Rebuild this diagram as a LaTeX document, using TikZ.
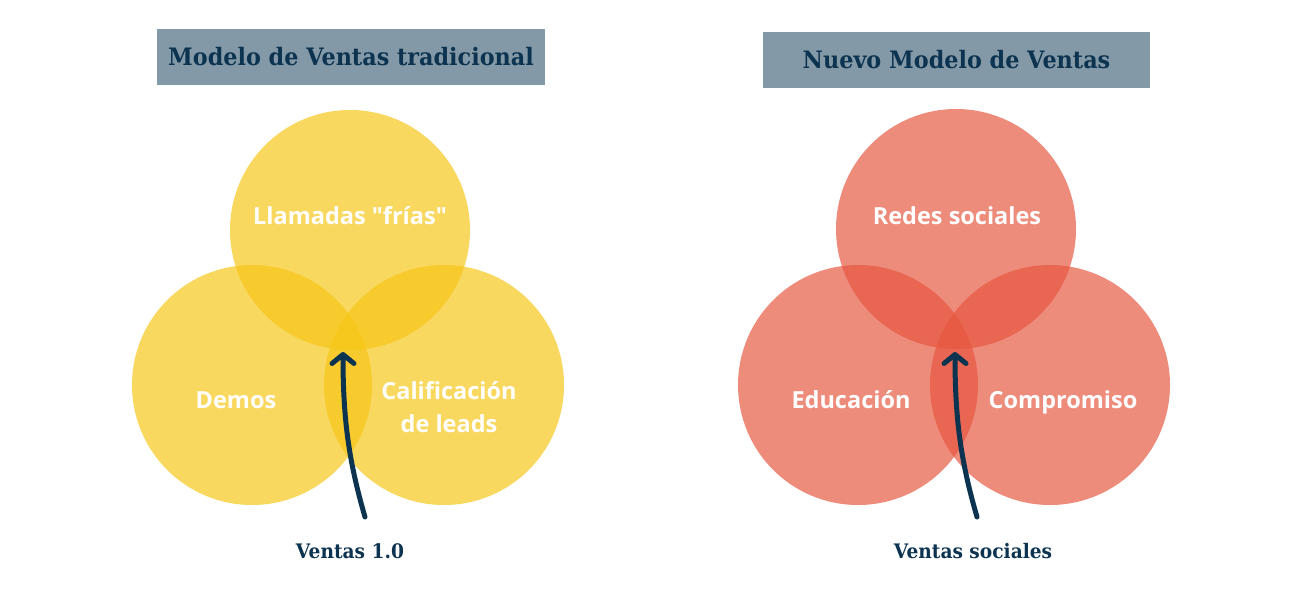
\documentclass[tikz,border=0pt]{standalone}
\usepackage{fontspec}
\setmainfont{DejaVu Serif}
\newfontfamily\labfont{Open Sans}
\usetikzlibrary{arrows.meta}
\definecolor{navy}{HTML}{0C3450}
\definecolor{titlebg}{HTML}{8499A7}
\definecolor{ylw}{RGB}{246,197,21}
\definecolor{rd}{RGB}{230,85,62}
\tikzset{
  circ/.style={circle, draw=none, minimum size=240pt, inner sep=0pt, fill opacity=0.68},
  ycirc/.style={circ, fill=ylw},
  rcirc/.style={circ, fill=rd},
  titlebox/.style={fill=titlebg, text=navy, inner sep=0pt, font=\bfseries\fontsize{24}{28}\selectfont},
  lab/.style={text=white, font=\labfont\bfseries\fontsize{23.5}{33}\selectfont, align=center, inner sep=0pt},
  captext/.style={text=navy, font=\bfseries\fontsize{20}{24}\selectfont, inner sep=0pt},
  arr/.style={draw=navy, line width=5pt, line cap=round, -{Straight Barb[length=9pt,width=22pt,line cap=round,line join=round]}}
}
\begin{document}
\begin{tikzpicture}[x=1pt,y=-1pt]
\useasboundingbox (0,0) rectangle (1300,600);
% left group
\node[titlebox, minimum width=388pt, minimum height=56pt] (t1) at (351,57) {\scalebox{0.93}[1]{Modelo de Ventas tradicional}};
\node[ycirc] (c1t) at (350,230) {};
\node[ycirc] (c1l) at (252,385) {};
\node[ycirc] (c1r) at (444,385) {};
\node[lab] (l1t) at (350,216) {Llamadas "frías"};
\node[lab] (l1l) at (236,400) {Demos};
\node[lab] (l1r) at (449,407) {Calificación\\de leads};
\node[captext] (v1) at (350,551) {\scalebox{0.93}[1]{Ventas 1.0}};
\coordinate (a1s) at (365,517);
\coordinate (a1t) at (343,352);
\draw[arr] (a1s) .. controls (349,462) and (343,420) .. (a1t);
% right group
\node[titlebox, minimum width=387pt, minimum height=56pt] (t2) at (956.5,60) {\scalebox{0.93}[1]{Nuevo Modelo de Ventas}};
\node[rcirc] (c2t) at (956,229) {};
\node[rcirc] (c2l) at (858,385) {};
\node[rcirc] (c2r) at (1050,385) {};
\node[lab] (l2t) at (957,216) {Redes sociales};
\node[lab] (l2l) at (851,400) {Educación};
\node[lab] (l2r) at (1063,402) {Compromiso};
\node[captext] (v2) at (973,551) {\scalebox{0.93}[1]{Ventas sociales}};
\coordinate (a2s) at (977,517);
\coordinate (a2t) at (955,352);
\draw[arr] (a2s) .. controls (961,462) and (955,420) .. (a2t);
\end{tikzpicture}
\end{document}
